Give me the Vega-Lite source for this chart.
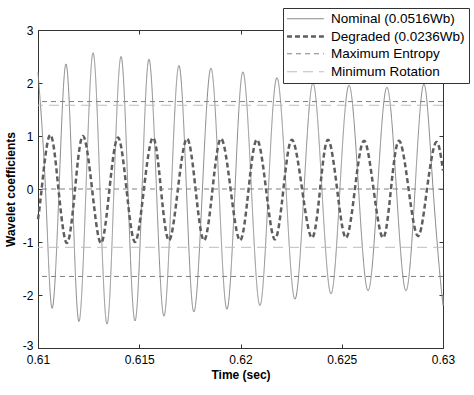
{
  "$schema": "https://vega.github.io/schema/vega-lite/v6.json",
  "width": 405,
  "height": 318,
  "autosize": {"type": "none"},
  "padding": {"left": 38, "top": 30, "right": 31, "bottom": 47},
  "background": "white",
  "config": {
    "font": "Liberation Sans",
    "view": {"stroke": "#333", "strokeWidth": 1},
    "axis": {
      "grid": false,
      "domainColor": "#333",
      "tickColor": "#333",
      "labelColor": "#000",
      "labelFont": "Liberation Sans",
      "labelFontSize": 12,
      "labelFlush": false,
      "titleFont": "Liberation Sans",
      "titleFontSize": 12,
      "titleFontWeight": "bold",
      "titleColor": "#000",
      "tickSize": -4,
      "labelPadding": 9
    }
  },
  "datasets": {
    "signals": [
      {"t": 0.61, "v": 2.2, "series": "Nominal (0.0516Wb)"},
      {"t": 0.61037, "v": 0, "series": "Nominal (0.0516Wb)"},
      {"t": 0.61069, "v": -2.25, "series": "Nominal (0.0516Wb)"},
      {"t": 0.61104, "v": 0, "series": "Nominal (0.0516Wb)"},
      {"t": 0.61138, "v": 2.36, "series": "Nominal (0.0516Wb)"},
      {"t": 0.6117, "v": 0, "series": "Nominal (0.0516Wb)"},
      {"t": 0.61202, "v": -2.5, "series": "Nominal (0.0516Wb)"},
      {"t": 0.61237, "v": 0, "series": "Nominal (0.0516Wb)"},
      {"t": 0.61272, "v": 2.57, "series": "Nominal (0.0516Wb)"},
      {"t": 0.61306, "v": 0, "series": "Nominal (0.0516Wb)"},
      {"t": 0.61341, "v": -2.55, "series": "Nominal (0.0516Wb)"},
      {"t": 0.61375, "v": 0, "series": "Nominal (0.0516Wb)"},
      {"t": 0.6141, "v": 2.5, "series": "Nominal (0.0516Wb)"},
      {"t": 0.61444, "v": 0, "series": "Nominal (0.0516Wb)"},
      {"t": 0.61479, "v": -2.49, "series": "Nominal (0.0516Wb)"},
      {"t": 0.61514, "v": 0, "series": "Nominal (0.0516Wb)"},
      {"t": 0.61548, "v": 2.45, "series": "Nominal (0.0516Wb)"},
      {"t": 0.61585, "v": 0, "series": "Nominal (0.0516Wb)"},
      {"t": 0.61622, "v": -2.4, "series": "Nominal (0.0516Wb)"},
      {"t": 0.61659, "v": 0, "series": "Nominal (0.0516Wb)"},
      {"t": 0.61696, "v": 2.33, "series": "Nominal (0.0516Wb)"},
      {"t": 0.61733, "v": 0, "series": "Nominal (0.0516Wb)"},
      {"t": 0.6177, "v": -2.32, "series": "Nominal (0.0516Wb)"},
      {"t": 0.61812, "v": 0, "series": "Nominal (0.0516Wb)"},
      {"t": 0.61854, "v": 2.28, "series": "Nominal (0.0516Wb)"},
      {"t": 0.61894, "v": 0, "series": "Nominal (0.0516Wb)"},
      {"t": 0.61933, "v": -2.27, "series": "Nominal (0.0516Wb)"},
      {"t": 0.61973, "v": 0, "series": "Nominal (0.0516Wb)"},
      {"t": 0.62012, "v": 2.21, "series": "Nominal (0.0516Wb)"},
      {"t": 0.62054, "v": 0, "series": "Nominal (0.0516Wb)"},
      {"t": 0.62096, "v": -2.2, "series": "Nominal (0.0516Wb)"},
      {"t": 0.62138, "v": 0, "series": "Nominal (0.0516Wb)"},
      {"t": 0.6218, "v": 2.1, "series": "Nominal (0.0516Wb)"},
      {"t": 0.62225, "v": 0, "series": "Nominal (0.0516Wb)"},
      {"t": 0.62269, "v": -2.08, "series": "Nominal (0.0516Wb)"},
      {"t": 0.62314, "v": 0, "series": "Nominal (0.0516Wb)"},
      {"t": 0.62358, "v": 2.0, "series": "Nominal (0.0516Wb)"},
      {"t": 0.62402, "v": 0, "series": "Nominal (0.0516Wb)"},
      {"t": 0.62447, "v": -1.98, "series": "Nominal (0.0516Wb)"},
      {"t": 0.62491, "v": 0, "series": "Nominal (0.0516Wb)"},
      {"t": 0.62536, "v": 1.96, "series": "Nominal (0.0516Wb)"},
      {"t": 0.62583, "v": 0, "series": "Nominal (0.0516Wb)"},
      {"t": 0.6263, "v": -1.92, "series": "Nominal (0.0516Wb)"},
      {"t": 0.62677, "v": 0, "series": "Nominal (0.0516Wb)"},
      {"t": 0.62723, "v": 1.92, "series": "Nominal (0.0516Wb)"},
      {"t": 0.6277, "v": 0, "series": "Nominal (0.0516Wb)"},
      {"t": 0.62817, "v": -1.92, "series": "Nominal (0.0516Wb)"},
      {"t": 0.62862, "v": 0, "series": "Nominal (0.0516Wb)"},
      {"t": 0.62906, "v": 1.98, "series": "Nominal (0.0516Wb)"},
      {"t": 0.62951, "v": 0, "series": "Nominal (0.0516Wb)"},
      {"t": 0.62995, "v": -2.02, "series": "Nominal (0.0516Wb)"},
      {"t": 0.63, "v": -2.0, "series": "Nominal (0.0516Wb)"},

      {"t": 0.61, "v": -0.57, "series": "Degraded (0.0236Wb)"},
      {"t": 0.61018, "v": 0, "series": "Degraded (0.0236Wb)"},
      {"t": 0.61059, "v": 1.02, "series": "Degraded (0.0236Wb)"},
      {"t": 0.61101, "v": 0, "series": "Degraded (0.0236Wb)"},
      {"t": 0.61143, "v": -1.02, "series": "Degraded (0.0236Wb)"},
      {"t": 0.61183, "v": 0, "series": "Degraded (0.0236Wb)"},
      {"t": 0.61222, "v": 1.0, "series": "Degraded (0.0236Wb)"},
      {"t": 0.61267, "v": 0, "series": "Degraded (0.0236Wb)"},
      {"t": 0.61311, "v": -1.02, "series": "Degraded (0.0236Wb)"},
      {"t": 0.61353, "v": 0, "series": "Degraded (0.0236Wb)"},
      {"t": 0.61395, "v": 0.97, "series": "Degraded (0.0236Wb)"},
      {"t": 0.61437, "v": 0, "series": "Degraded (0.0236Wb)"},
      {"t": 0.61479, "v": -1.0, "series": "Degraded (0.0236Wb)"},
      {"t": 0.61523, "v": 0, "series": "Degraded (0.0236Wb)"},
      {"t": 0.61568, "v": 0.97, "series": "Degraded (0.0236Wb)"},
      {"t": 0.61607, "v": 0, "series": "Degraded (0.0236Wb)"},
      {"t": 0.61647, "v": -0.97, "series": "Degraded (0.0236Wb)"},
      {"t": 0.61691, "v": 0, "series": "Degraded (0.0236Wb)"},
      {"t": 0.61736, "v": 0.95, "series": "Degraded (0.0236Wb)"},
      {"t": 0.61778, "v": 0, "series": "Degraded (0.0236Wb)"},
      {"t": 0.6182, "v": -0.97, "series": "Degraded (0.0236Wb)"},
      {"t": 0.61862, "v": 0, "series": "Degraded (0.0236Wb)"},
      {"t": 0.61904, "v": 0.95, "series": "Degraded (0.0236Wb)"},
      {"t": 0.61951, "v": 0, "series": "Degraded (0.0236Wb)"},
      {"t": 0.61998, "v": -0.97, "series": "Degraded (0.0236Wb)"},
      {"t": 0.6204, "v": 0, "series": "Degraded (0.0236Wb)"},
      {"t": 0.62081, "v": 0.93, "series": "Degraded (0.0236Wb)"},
      {"t": 0.62126, "v": 0, "series": "Degraded (0.0236Wb)"},
      {"t": 0.6217, "v": -0.95, "series": "Degraded (0.0236Wb)"},
      {"t": 0.62212, "v": 0, "series": "Degraded (0.0236Wb)"},
      {"t": 0.62254, "v": 0.93, "series": "Degraded (0.0236Wb)"},
      {"t": 0.62304, "v": 0, "series": "Degraded (0.0236Wb)"},
      {"t": 0.62353, "v": -0.92, "series": "Degraded (0.0236Wb)"},
      {"t": 0.62393, "v": 0, "series": "Degraded (0.0236Wb)"},
      {"t": 0.62432, "v": 0.93, "series": "Degraded (0.0236Wb)"},
      {"t": 0.62477, "v": 0, "series": "Degraded (0.0236Wb)"},
      {"t": 0.62521, "v": -0.92, "series": "Degraded (0.0236Wb)"},
      {"t": 0.62565, "v": 0, "series": "Degraded (0.0236Wb)"},
      {"t": 0.6261, "v": 0.91, "series": "Degraded (0.0236Wb)"},
      {"t": 0.62657, "v": 0, "series": "Degraded (0.0236Wb)"},
      {"t": 0.62704, "v": -0.92, "series": "Degraded (0.0236Wb)"},
      {"t": 0.62743, "v": 0, "series": "Degraded (0.0236Wb)"},
      {"t": 0.62783, "v": 0.91, "series": "Degraded (0.0236Wb)"},
      {"t": 0.6283, "v": 0, "series": "Degraded (0.0236Wb)"},
      {"t": 0.62877, "v": -0.89, "series": "Degraded (0.0236Wb)"},
      {"t": 0.62921, "v": 0, "series": "Degraded (0.0236Wb)"},
      {"t": 0.62965, "v": 0.88, "series": "Degraded (0.0236Wb)"},
      {"t": 0.63, "v": 0.35, "series": "Degraded (0.0236Wb)"}
    ],
    "thresholds": [
      {"v": 1.65, "series": "Maximum Entropy"},
      {"v": -1.65, "series": "Maximum Entropy"},
      {"v": 0, "series": "Maximum Entropy"},
      {"v": 1.58, "series": "Minimum Rotation"},
      {"v": -1.1, "series": "Minimum Rotation"}
    ]
  },
  "resolve": {"axis": {"x": "independent", "y": "independent"}},
  "layer": [
    {
      "data": {"name": "signals"},
      "mark": {"type": "line", "interpolate": "natural"},
      "encoding": {
        "x": {
          "field": "t", "type": "quantitative",
          "scale": {"domain": [0.61, 0.63], "nice": false, "zero": false},
          "axis": {"values": [0.61, 0.615, 0.62, 0.625, 0.63], "labelExpr": "'' + datum.value", "title": "Time (sec)", "labelPadding": 10}
        },
        "y": {
          "field": "v", "type": "quantitative",
          "scale": {"domain": [-3, 3], "nice": false},
          "axis": {
            "values": [-3, -2, -1, 0, 1, 2, 3],
            "labelExpr": "'' + datum.value",
            "labelOffset": {"condition": {"test": "datum.value === -3", "value": -3}, "value": 0},
            "title": "Wavelet coefficients",
            "titlePadding": 5
          }
        },
        "color": {
          "field": "series", "type": "nominal",
          "scale": {
            "domain": ["Nominal (0.0516Wb)", "Degraded (0.0236Wb)", "Maximum Entropy", "Minimum Rotation"],
            "range": ["#8a8a8a", "#5e5e5e", "#808080", "#bdbdbd"]
          },
          "legend": {
            "title": null,
            "orient": "none",
            "legendX": 245,
            "legendY": -22,
            "padding": 4,
            "strokeColor": "#333",
            "fillColor": "white",
            "symbolType": "M-1.25,0H4.9",
            "symbolSize": 144,
            "symbolOffset": 0,
            "labelOffset": 29,
            "labelFont": "Liberation Sans",
            "labelFontSize": 13.5,
            "labelColor": "#000",
            "rowPadding": 3,
            "labelLimit": 300
          }
        },
        "strokeDash": {
          "field": "series", "type": "nominal",
          "scale": {
            "domain": ["Nominal (0.0516Wb)", "Degraded (0.0236Wb)", "Maximum Entropy", "Minimum Rotation"],
            "range": [[1, 0], [5, 3], [5, 4], [10, 6]]
          }
        },
        "strokeWidth": {
          "field": "series", "type": "nominal",
          "scale": {
            "type": "ordinal",
            "domain": ["Nominal (0.0516Wb)", "Degraded (0.0236Wb)", "Maximum Entropy", "Minimum Rotation"],
            "range": [1, 2.5, 1, 1]
          }
        }
      }
    },
    {
      "data": {"name": "thresholds"},
      "mark": {"type": "rule", "strokeWidth": 1},
      "encoding": {
        "y": {"field": "v", "type": "quantitative", "axis": {"orient": "right", "values": [-3, -2, -1, 0, 1, 2, 3], "labels": false, "domain": false, "title": null}},
        "color": {"field": "series", "type": "nominal"},
        "strokeDash": {"field": "series", "type": "nominal"}
      }
    },
    {
      "data": {"name": "signals"},
      "mark": {"type": "point", "opacity": 0},
      "encoding": {
        "x": {"field": "t", "type": "quantitative", "axis": {"orient": "top", "values": [0.61, 0.615, 0.62, 0.625, 0.63], "labels": false, "domain": false, "title": null}},
        "y": {"field": "v", "type": "quantitative", "axis": null}
      }
    }
  ]
}
